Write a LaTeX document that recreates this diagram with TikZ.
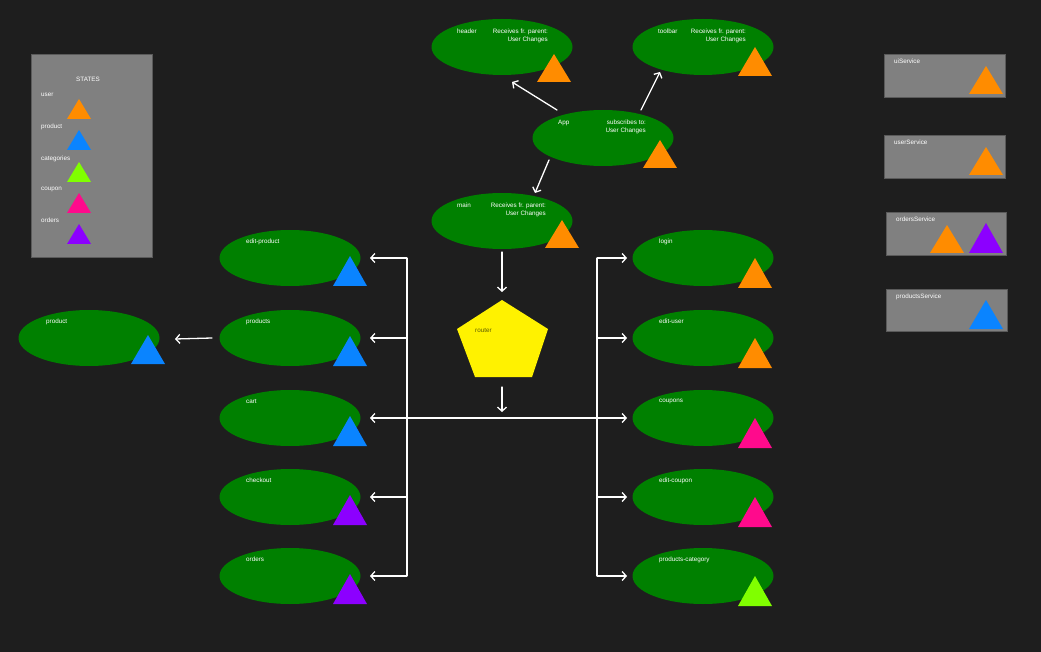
\documentclass[tikz,border=0pt]{standalone}
\usepackage{fontspec}
\setmainfont{Liberation Sans}
\usetikzlibrary{shapes.geometric,arrows.meta}
\definecolor{bg}{HTML}{1E1E1E}
\definecolor{gr}{HTML}{008000}
\definecolor{tor}{HTML}{FF8C00}
\definecolor{tbl}{HTML}{0A84FF}
\definecolor{tli}{HTML}{80FF00}
\definecolor{tpk}{HTML}{FF0A8C}
\definecolor{tpu}{HTML}{8C00FF}
\definecolor{gy}{HTML}{808080}
\definecolor{rtxt}{HTML}{5A5A00}
\begin{document}
\begin{tikzpicture}[x=1pt,y=-1pt,
  ell/.style={ellipse,fill=gr,minimum width=141pt,minimum height=56pt,inner sep=0},
  txt/.style={text=white,font=\fontsize{6.3}{7.3}\selectfont,inner sep=0,anchor=north west},
  txtr/.style={text=white,font=\fontsize{6.3}{7.3}\selectfont,inner sep=0,anchor=north east,align=right},
  box/.style={fill=gy,draw=gy!70!black,anchor=north west,inner sep=0},
  arr/.style={draw=white,line width=1.3pt,line cap=round,-{Straight Barb[length=4pt,width=9pt,line width=1.3pt]}},
  ln/.style={draw=white,line width=1.3pt}]
\fill[bg] (0,0) rectangle (1041,652);
\useasboundingbox (0,0) rectangle (1041,652);
\newcommand{\tri}[4]{\fill[#4] (#1-17,#3) -- (#1+17,#3) -- (#1,#2) -- cycle;}
\newcommand{\stri}[4]{\fill[#4] (#1-12,#3) -- (#1+12,#3) -- (#1,#2) -- cycle;}
% boxes
\node[box,minimum width=121pt,minimum height=203pt] (states) at (31,54) {};
\node[box,minimum width=121pt,minimum height=43pt] (ui) at (884,54) {};
\node[box,minimum width=121pt,minimum height=43pt] (us) at (884,135) {};
\node[box,minimum width=120pt,minimum height=43pt] (os) at (886,212) {};
\node[box,minimum width=121pt,minimum height=42pt] (ps) at (886,289) {};
\node[txt] (tst) at (76,77) {STATES};
\node[txt] (t1) at (41,93) {user};
\node[txt] (t2) at (41,124) {product};
\node[txt] (t3) at (41,156) {categories};
\node[txt] (t4) at (41,187) {coupon};
\node[txt] (t5) at (41,218) {orders};
\stri{79}{99}{119}{tor}
\stri{79}{130}{150}{tbl}
\stri{79}{162}{182}{tli}
\stri{79}{193}{213}{tpk}
\stri{79}{224}{244}{tpu}
\node[txt] (tui) at (894,59) {uiService};
\node[txt] (tus) at (894,140) {userService};
\node[txt] (tos) at (896,217) {ordersService};
\node[txt] (tps) at (896,294) {productsService};
\tri{986}{66}{94}{tor}
\tri{986}{147}{175}{tor}
\tri{947}{225}{253}{tor}
\tri{986}{223}{253}{tpu}
\tri{986}{300}{329}{tbl}
% top ellipses
\node[ell] (header) at (502,47) {};
\node[ell] (toolbar) at (703,47) {};
\node[ell] (app) at (603,138) {};
\node[ell] (main) at (502,221) {};
\node[txt] at (457,29) {header};
\node[txtr] at (548,29) {Receives fr. parent:\\User Changes};
\node[txt] at (658,29) {toolbar};
\node[txtr] at (746,29) {Receives fr. parent:\\User Changes};
\node[txt] at (558,120) {App};
\node[txtr] at (646,120) {subscribes to:\\User Changes};
\node[txt] at (457,203) {main};
\node[txtr] at (546,203) {Receives fr. parent:\\User Changes};
\tri{554}{54}{82}{tor}
\tri{755}{47}{76}{tor}
\tri{660}{140}{168}{tor}
\tri{562}{220}{248}{tor}
% router
\fill[yellow] (502,300) -- (548,329) -- (532,377) -- (475,377) -- (457,329) -- cycle;
\node[inner sep=0] (router) at (502,338) {};
\node[txt,text=rtxt] at (475,328) {router};
% left column
\foreach \n/\l/\y/\c in {ep/edit-product/258/tbl, pr/products/338/tbl, ca/cart/418/tbl, ch/checkout/497/tpu, or/orders/576/tpu}{
  \node[ell] (\n) at (290,\y) {};
  \node[txt] at (246,\y-19) {\l};
  \tri{350}{\y-2}{\y+28}{\c}
}
\foreach \n/\l/\y/\c in {lo/login/258/tor, eu/edit-user/338/tor, co/coupons/418/tpk, ec/edit-coupon/497/tpk, pc/products-category/576/tli}{
  \node[ell] (\n) at (703,\y) {};
  \node[txt] at (659,\y-19) {\l};
  \tri{755}{\y}{\y+30}{\c}
}
\node[ell] (prod) at (89,338) {};
\node[txt] at (46,319) {product};
\tri{148}{335}{364}{tbl}
% connectors
\coordinate (a1) at (557,110); \coordinate (a2) at (641,110); \coordinate (a3) at (549,160);
\draw[arr] (a1) -- (512,82);
\draw[arr] (a2) -- (660,72);
\draw[arr] (a3) -- (535,193);
\draw[arr] (502,252) -- (502,292);
\draw[arr] (502,387) -- (502,412);
\draw[ln] (407,258) -- (407,576);
\draw[ln] (597,258) -- (597,576);
\draw[arr] (407,418) -- (370,418);
\draw[arr] (597,418) -- (627,418);
\draw[ln] (407,418) -- (597,418);
\foreach \y in {258,338,497,576}{
  \draw[arr] (407,\y) -- (370,\y);
  \draw[arr] (597,\y) -- (627,\y);
}
\draw[arr] (212,338) -- (175,339);
\end{tikzpicture}
\end{document}
